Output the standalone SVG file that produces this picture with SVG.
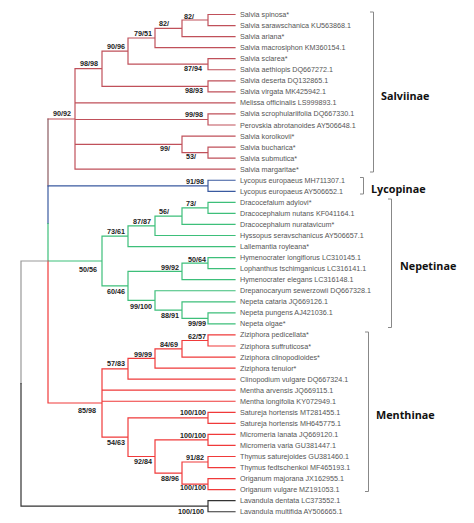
<svg xmlns="http://www.w3.org/2000/svg" width="474" height="523" viewBox="0 0 474 523">
<style>
.b{fill:none;stroke-width:1.2;stroke-linecap:square}
.sal{stroke:#c0505a}.lyc{stroke:#3a5aa0}.nep{stroke:#3dbf7a}.men{stroke:#f03a3a}.out{stroke:#333}
.lf{font-family:"Liberation Sans",Arial,sans-serif;font-size:7.2px;fill:#555}
.bs{font-family:"Liberation Sans",Arial,sans-serif;font-size:7.2px;font-weight:bold;fill:#222}
.br{fill:none;stroke:#888;stroke-width:1}
.cl{font-family:"Open Sans","Noto Sans",sans-serif;font-size:10.8px;font-weight:bold;fill:#111}
</style>
<rect width="474" height="523" fill="#fff"/>
<g id="connectors">
<path class="b sal" d="M208,14.5V25.55M182,20V36.6M155,28.3V47.65M208,58.7V69.75M128,38V64.2M208,80.8V91.85M102,51.1V86.3M208,113.95V125M208,147.1V158.15M182,136.05V152.6M75,68.7V169.2
M208,14.5H235M208,25.55H235M182,36.6H235M155,47.65H235M208,58.7H235M208,69.75H235M208,80.8H235M208,91.85H235M75,102.9H235M208,113.95H235M208,125H235M182,136.05H235M208,147.1H235M208,158.15H235M75,169.2H235
M182,20H208M155,28.3H182M128,38H155M128,64.2H208M102,51.1H128M102,86.3H208M75,68.7H102M75,119.5H208M182,152.6H208M75,144.3H182M48,119H75"/>
<path class="b" stroke="#8a5a60" d="M48,119V185.8"/>
<path class="b lyc" d="M48,185.8V223.5M48,185.8H208M208,180.25V191.3M208,180.25H235M208,191.3H235"/>
<path class="b nep" d="M48,223.5V261M208,202.35V213.4M208,202.35H235M208,213.4H235M182,207.9V224.45M182,207.9H208M182,224.45H235M155,216.2V235.5M155,216.2H182M155,235.5H235M128,225.8V246.55M128,225.8H155M128,246.55H235
M208,257.6V268.65M208,257.6H235M208,268.65H235M182,263.1V279.7M182,263.1H208M182,279.7H235
M208,312.85V323.9M208,312.85H235M208,323.9H235M182,301.8V318.4M182,318.4H208M182,301.8H235M155,290.75V310.1M155,310.1H182M155,290.75H235
M128,271.4V300.4M128,271.4H182M128,300.4H155M102,236.2V285.9M102,236.2H128M102,285.9H128M48,261H102"/>
<path class="b men" d="M48,261V403M208,334.95V346M208,334.95H235M208,346H235M182,340.5V357.05M182,340.5H208M182,357.05H235M155,348.8V368.1M155,348.8H182M155,368.1H235M128,358.4V379.15M128,358.4H155M128,379.15H235
M208,412.3V423.35M208,412.3H235M208,423.35H235M208,434.4V445.45M208,434.4H235M208,445.45H235M208,456.5V467.55M208,456.5H235M208,467.55H235M208,478.6V489.65M208,478.6H235M208,489.65H235
M182,462V484.1M182,462H208M182,484.1H208M155,439.9V473.1M155,439.9H208M155,473.1H182M128,417.8V456.5M128,417.8H208M128,456.5H155
M102,368.8V437.2M102,368.8H128M102,390.2H235M102,401.25H235M102,437.2H128M48,403H102"/>
<path class="b" stroke="#999" d="M21,261H48M21,261V383.6"/>
<path class="b out" d="M21,383.6V506.2M21,506.2H208M208,500.7V511.75M208,500.7H235M208,511.75H235"/>
</g>
<g id="support">
<text class="bs" x="184" y="18.5">82/</text>
<text class="bs" x="159" y="25.5">82/</text>
<text class="bs" x="134" y="35.5">79/51</text>
<text class="bs" x="107" y="48.5">90/96</text>
<text class="bs" x="184" y="71">87/94</text>
<text class="bs" x="185" y="93">98/93</text>
<text class="bs" x="80" y="65.5">98/98</text>
<text class="bs" x="53" y="116">90/92</text>
<text class="bs" x="185" y="117">99/98</text>
<text class="bs" x="160" y="151">99/</text>
<text class="bs" x="186" y="159">53/</text>
<text class="bs" x="186" y="183.5">91/98</text>
<text class="bs" x="186" y="206">73/</text>
<text class="bs" x="159" y="213.5">56/</text>
<text class="bs" x="133" y="223.5">87/87</text>
<text class="bs" x="107" y="234">73/61</text>
<text class="bs" x="79" y="272">50/56</text>
<text class="bs" x="188" y="262">50/64</text>
<text class="bs" x="161" y="269.5">99/92</text>
<text class="bs" x="107" y="293.5">60/46</text>
<text class="bs" x="130" y="308.5">99/100</text>
<text class="bs" x="161" y="317.5">88/91</text>
<text class="bs" x="188" y="326">99/99</text>
<text class="bs" x="188" y="338.5">62/57</text>
<text class="bs" x="160" y="347">84/69</text>
<text class="bs" x="134" y="357">99/99</text>
<text class="bs" x="107" y="366">57/83</text>
<text class="bs" x="78" y="412.5">85/98</text>
<text class="bs" x="180" y="415">100/100</text>
<text class="bs" x="180" y="438">100/100</text>
<text class="bs" x="107" y="444.5">54/63</text>
<text class="bs" x="186" y="459.5">91/82</text>
<text class="bs" x="134" y="464">92/84</text>
<text class="bs" x="161" y="481">88/96</text>
<text class="bs" x="180" y="489.5">100/100</text>
<text class="bs" x="178" y="514">100/100</text>
</g>
<g id="leaves">
<text class="lf" x="240" y="17">Salvia spinosa*</text>
<text class="lf" x="240" y="28.05">Salvia sarawschanica KU563868.1</text>
<text class="lf" x="240" y="39.1">Salvia ariana*</text>
<text class="lf" x="240" y="50.15">Salvia macrosiphon KM360154.1</text>
<text class="lf" x="240" y="61.2">Salvia sclarea*</text>
<text class="lf" x="240" y="72.25">Salvia aethiopis DQ667272.1</text>
<text class="lf" x="240" y="83.3">Salvia deserta DQ132865.1</text>
<text class="lf" x="240" y="94.35">Salvia virgata MK425942.1</text>
<text class="lf" x="240" y="105.4">Melissa officinalis LS999893.1</text>
<text class="lf" x="240" y="116.45">Salvia scrophulariifolia DQ667330.1</text>
<text class="lf" x="240" y="127.5">Perovskia abrotanoides AY506648.1</text>
<text class="lf" x="240" y="138.55">Salvia korolkovii*</text>
<text class="lf" x="240" y="149.6">Salvia bucharica*</text>
<text class="lf" x="240" y="160.65">Salvia submutica*</text>
<text class="lf" x="240" y="171.7">Salvia margaritae*</text>
<text class="lf" x="240" y="182.75">Lycopus europaeus MH711307.1</text>
<text class="lf" x="240" y="193.8">Lycopus europaeus AY506652.1</text>
<text class="lf" x="240" y="204.85">Dracocefalum adylovi*</text>
<text class="lf" x="240" y="215.9">Dracocephalum nutans KF041164.1</text>
<text class="lf" x="240" y="226.95">Dracocephalum nuratavicum*</text>
<text class="lf" x="240" y="238">Hyssopus seravschanicus AY506657.1</text>
<text class="lf" x="240" y="249.05">Lallemantia royleana*</text>
<text class="lf" x="240" y="260.1">Hymenocrater longiflorus LC310145.1</text>
<text class="lf" x="240" y="271.15">Lophanthus tschimganicus LC316141.1</text>
<text class="lf" x="240" y="282.2">Hymenocrater elegans LC316148.1</text>
<text class="lf" x="240" y="293.25">Drepanocaryum sewerzowii DQ667328.1</text>
<text class="lf" x="240" y="304.3">Nepeta cataria JQ669126.1</text>
<text class="lf" x="240" y="315.35">Nepeta pungens AJ421036.1</text>
<text class="lf" x="240" y="326.4">Nepeta olgae*</text>
<text class="lf" x="240" y="337.45">Ziziphora pedicellata*</text>
<text class="lf" x="240" y="348.5">Ziziphora suffruticosa*</text>
<text class="lf" x="240" y="359.55">Ziziphora clinopodioides*</text>
<text class="lf" x="240" y="370.6">Ziziphora tenuior*</text>
<text class="lf" x="240" y="381.65">Clinopodium vulgare DQ667324.1</text>
<text class="lf" x="240" y="392.7">Mentha arvensis JQ669115.1</text>
<text class="lf" x="240" y="403.75">Mentha longifolia KY072949.1</text>
<text class="lf" x="240" y="414.8">Satureja hortensis MT281455.1</text>
<text class="lf" x="240" y="425.85">Satureja hortensis MH645775.1</text>
<text class="lf" x="240" y="436.9">Micromeria lanata JQ669120.1</text>
<text class="lf" x="240" y="447.95">Micromeria varia GU381447.1</text>
<text class="lf" x="240" y="459">Thymus saturejoides GU381460.1</text>
<text class="lf" x="240" y="470.05">Thymus fedtschenkoi MF465193.1</text>
<text class="lf" x="240" y="481.1">Origanum majorana JX162955.1</text>
<text class="lf" x="240" y="492.15">Origanum vulgare MZ191053.1</text>
<text class="lf" x="240" y="503.2">Lavandula dentata LC373552.1</text>
<text class="lf" x="240" y="514.25">Lavandula multifida AY506665.1</text>
</g>
<g id="salviinae"><path class="br" d="M370,12H373.5V172H370"/><text class="cl" x="381" y="99.5">Salviinae</text></g>
<g id="lycopinae"><path class="br" d="M360,177.5H363.5V194H360"/><text class="cl" x="371" y="192.5">Lycopinae</text></g>
<g id="nepetinae"><path class="br" d="M388,199H391.5V327.5H388"/><text class="cl" x="400" y="270">Nepetinae</text></g>
<g id="menthinae"><path class="br" d="M365,332H368.5V491.5H365"/><text class="cl" x="376" y="419">Menthinae</text></g>
</svg>
